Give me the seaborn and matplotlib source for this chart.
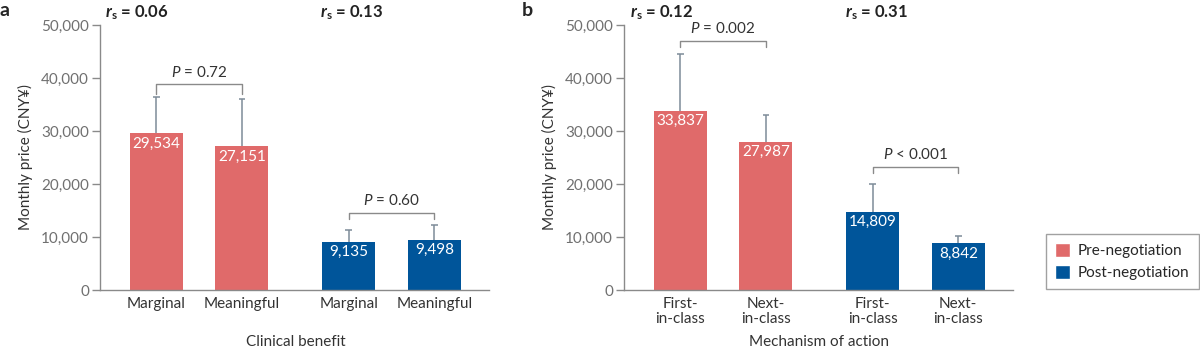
import numpy as np
import pandas as pd
import seaborn as sns
import matplotlib.pyplot as plt
from matplotlib.patches import Patch

# bar positions (two groups of two)
POSITIONS = [0, 1, 2.25, 3.25]
PHASES = ["Pre-negotiation", "Pre-negotiation", "Post-negotiation", "Post-negotiation"]

# panel a: clinical benefit
LABELS_A = ["Marginal", "Meaningful", "Marginal", "Meaningful"]
MEANS_A = [29534, 27151, 9135, 9498]
UPPER_A = [36400, 36100, 11300, 12300]
RS_A = ["0.06", "0.13"]
PTEXT_A = ["= 0.72", "= 0.60"]

# panel b: mechanism of action
LABELS_B = ["First-\nin-class", "Next-\nin-class", "First-\nin-class", "Next-\nin-class"]
MEANS_B = [33837, 27987, 14809, 8842]
UPPER_B = [44500, 33000, 20000, 10250]
RS_B = ["0.12", "0.31"]
PTEXT_B = ["= 0.002", "< 0.001"]

RED = "#e06a6a"
BLUE = "#00559a"
GREY = "#8a8a8a"
ERR = "#7d8b98"

sns.set_theme(style="white")
plt.rcParams.update({
    "font.family": ["Lato", "DejaVu Sans"],
    "mathtext.fontset": "custom",
    "mathtext.rm": "Lato",
    "mathtext.it": "Lato:italic",
    "mathtext.bf": "Lato:bold",
    "mathtext.bfit": "Lato:bold:italic",
})


def draw_panel(ax, labels, means, upper, rs, ptext, xlabel, brackets):
    df = pd.DataFrame({"x": POSITIONS, "y": means, "phase": PHASES})
    sns.barplot(data=df, x="x", y="y", hue="phase", native_scale=True,
                palette={"Pre-negotiation": RED, "Post-negotiation": BLUE},
                dodge=False, width=0.62, errorbar=None, legend=False,
                saturation=1, ax=ax, edgecolor="none", zorder=2)

    # one-sided error bars: stem from bar top + cap
    ax.vlines(POSITIONS, means, upper, color=ERR, lw=1.1, zorder=1)
    ax.hlines(upper, np.array(POSITIONS) - 0.04, np.array(POSITIONS) + 0.04,
              color=ERR, lw=1.1, zorder=1)

    for x, m in zip(POSITIONS, means):
        ax.text(x, m - 700, f"{m:,}", ha="center", va="top", color="white",
                fontsize=11, zorder=3)

    # significance brackets
    for (i, j, yb, ytick), pt in zip(brackets, ptext):
        x0, x1 = POSITIONS[i], POSITIONS[j]
        ax.plot([x0, x0, x1, x1], [ytick, yb, yb, ytick], color=GREY, lw=1,
                clip_on=False)
        ax.text((x0 + x1) / 2, yb + 900, f"$\\mathit{{P}}$ {pt}", ha="center",
                va="bottom", fontsize=11, color="#333333")

    ax.set_xlim(-0.66, 3.89)
    ax.set_ylim(0, 50000)
    ax.set_yticks(range(0, 50001, 10000))
    ax.set_yticklabels([f"{v:,}" for v in range(0, 50001, 10000)])
    ax.set_xticks(POSITIONS)
    ax.set_xticklabels(labels, linespacing=1.1)
    ax.tick_params(axis="y", length=6, width=1, color=GREY, labelcolor="#707070",
                   labelsize=11, pad=2, left=True)
    ax.tick_params(axis="x", length=0, labelsize=11, labelcolor="#333333", pad=5)
    for s in ["top", "right"]:
        ax.spines[s].set_visible(False)
    for s in ["left", "bottom"]:
        ax.spines[s].set_color(GREY)
        ax.spines[s].set_linewidth(1)
    ax.set_ylabel("Monthly price (CNY¥)", fontsize=11, color="#333333", labelpad=6)
    ax.set_xlabel("")
    ax.text(np.mean([POSITIONS[0], POSITIONS[-1]]), -9800, xlabel,
            ha="center", va="center", clip_on=False,
            fontsize=11, color="#333333")


fig = plt.figure(figsize=(12, 3.5), dpi=100)
ax_a = fig.add_axes([100 / 1200, 60 / 350, 389 / 1200, 265 / 350])
ax_b = fig.add_axes([624 / 1200, 60 / 350, 389 / 1200, 265 / 350])

draw_panel(ax_a, LABELS_A, MEANS_A, UPPER_A, RS_A, PTEXT_A, "Clinical benefit",
           [(0, 1, 38800, 37000), (2, 3, 14500, 13400)])
draw_panel(ax_b, LABELS_B, MEANS_B, UPPER_B, RS_B, PTEXT_B, "Mechanism of action",
           [(0, 1, 47000, 45800), (2, 3, 23300, 22100)])

# r_s headers above each group
for xpix, r in zip([105, 320, 630, 845], RS_A + RS_B):
    fig.text(xpix / 1200, 1 - 13 / 350, f"$\\mathbfit{{r}}_\\mathbf{{s}}$ = {r}",
             ha="left", va="center", fontsize=12, fontweight="bold",
             color="#222222")

fig.text(0.0, 0.97, "a", fontsize=14, fontweight="bold", va="center", ha="left")
fig.text(522 / 1200, 0.97, "b", fontsize=14, fontweight="bold", va="center", ha="left")

handles = [Patch(facecolor=RED, label="Pre-negotiation"),
           Patch(facecolor=BLUE, label="Post-negotiation")]
fig.legend(handles=handles, loc="upper left", bbox_to_anchor=(1046 / 1200, 1 - 234 / 350),
           frameon=True, fancybox=False, edgecolor=GREY, fontsize=11,
           handlelength=1.0, handleheight=1.0, handletextpad=0.5,
           borderpad=0.6, labelspacing=0.45, borderaxespad=0)

fig.savefig("out.png", dpi=100)
